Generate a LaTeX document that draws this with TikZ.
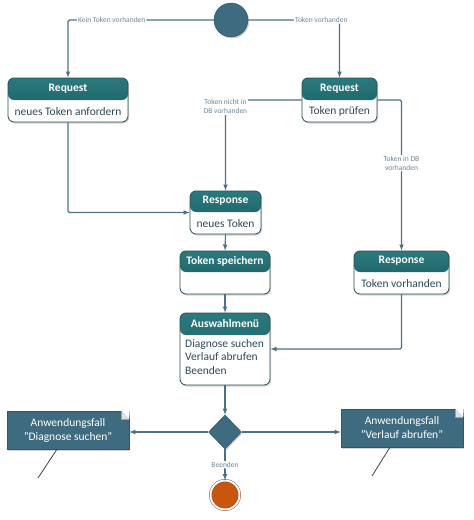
\documentclass[tikz,border=0pt]{standalone}
\usepackage{fontspec}
\setmainfont{Carlito}
\usetikzlibrary{arrows}
\usetikzlibrary{shapes.geometric}
\usetikzlibrary{shadows}
\definecolor{headtop}{HTML}{2C7A7E}
\definecolor{headbot}{HTML}{14585C}
\definecolor{flowcol}{HTML}{4F7082}
\definecolor{boxline}{HTML}{2B4B52}
\definecolor{slate}{HTML}{3F6B80}
\definecolor{labelcol}{HTML}{6A8798}
\definecolor{bodycol}{HTML}{2E4A5A}
\definecolor{stopfill}{HTML}{C9560F}
\definecolor{stopline}{HTML}{8A3A12}

\begin{document}
\begin{tikzpicture}[x=1pt,y=-1pt,
        statebox/.style={draw=boxline, line width=0.8pt, fill=white, rounded corners=6pt, inner sep=0pt,
            drop shadow={shadow xshift=1.2pt, shadow yshift=-1.5pt, opacity=0.35},
            path picture={\shade[top color=headtop, bottom color=headbot]
                (path picture bounding box.north west) rectangle ([yshift=-#1]path picture bounding box.north east);}},
        statebox/.default=22pt,
        headtext/.style={font=\bfseries\fontsize{11.5}{13}\selectfont, text=white},
        bodytext/.style={font=\fontsize{11.5}{13.5}\selectfont, text=bodycol},
        flow/.style={draw=flowcol, line width=1.1pt, -latex, rounded corners=1.5pt},
        flowlabel/.style={font=\fontsize{7.5}{9}\selectfont, text=labelcol, fill=white, inner sep=1pt, align=center},
        notebox/.style={rectangle, fill=slate, draw=slate!80!black, minimum width=122pt, minimum height=38pt,
            align=center, text=white, font=\fontsize{11.5}{14}\selectfont,
            drop shadow={shadow xshift=1.2pt, shadow yshift=-1.5pt, opacity=0.35}},
        noteline/.style={draw=black!75, line width=0.8pt}]
    \useasboundingbox (0,0) rectangle (474,520);

    % start and end
    \node[circle, fill=slate, draw=slate!70!black, minimum size=34pt, inner sep=0pt,
        drop shadow={shadow xshift=1.2pt, shadow yshift=-1.5pt, opacity=0.35}] (start) at (231,20) {};
    \node[circle, fill=stopfill, draw=stopline, double=white, double distance=2pt,
        minimum size=29pt, inner sep=0pt] (stop) at (225,495) {};

    % states
    \node[statebox, minimum width=120pt, minimum height=44pt] (reqA) at (68,100) {};
    \node[headtext] at ([yshift=-11pt]reqA.north) {Request};
    \node[bodytext] at ([yshift=11pt]reqA.south) {neues Token anfordern};

    \node[statebox, minimum width=75pt, minimum height=44pt] (reqB) at (339.5,100) {};
    \node[headtext] at ([yshift=-11pt]reqB.north) {Request};
    \node[bodytext] at ([yshift=11pt]reqB.south) {Token prüfen};

    \node[statebox=21pt, minimum width=71pt, minimum height=43pt] (resA) at (225.5,212.5) {};
    \node[headtext] at ([yshift=-10.5pt]resA.north) {Response};
    \node[bodytext] at ([yshift=11pt]resA.south) {neues Token};

    \node[statebox=21pt, minimum width=90pt, minimum height=43pt] (save) at (225,272.5) {};
    \node[headtext] at ([yshift=-10.5pt]save.north) {Token speichern};

    \node[statebox=21pt, minimum width=95pt, minimum height=43pt] (resB) at (401.5,272.5) {};
    \node[headtext] at ([yshift=-10.5pt]resB.north) {Response};
    \node[bodytext] at ([yshift=11pt]resB.south) {Token vorhanden};

    \node[statebox, minimum width=90pt, minimum height=72pt] (menu) at (225,349) {};
    \node[headtext] at ([yshift=-11pt]menu.north) {Auswahlmenü};
    \node[bodytext, align=left, anchor=north west, inner sep=0pt] at (185,339)
        {Diagnose suchen\\Verlauf abrufen\\Beenden};

    % decision and notes
    \node[diamond, fill=slate, draw=slate!70!black, minimum width=33pt, minimum height=34pt, inner sep=0pt,
        drop shadow={shadow xshift=1.2pt, shadow yshift=-1.5pt, opacity=0.35}] (dec) at (225,432) {};

    \node[notebox] (noteA) at (68,430) {Anwendungsfall\\"Diagnose suchen"};
    \node[notebox] (noteB) at (402,428) {Anwendungsfall\\"Verlauf abrufen"};
    \foreach \n in {noteA,noteB} {
        \fill[white] ([xshift=-8pt]\n.north east) -- ([xshift=0.6pt,yshift=0.6pt]\n.north east) -- ([yshift=-8pt]\n.north east) -- cycle;
        \fill[black!12] ([xshift=-8pt]\n.north east) -- ([xshift=-8pt,yshift=-8pt]\n.north east) -- ([yshift=-8pt]\n.north east) -- cycle;
        \draw[slate!60, line width=0.4pt] ([xshift=-8pt]\n.north east) -- ([xshift=-8pt,yshift=-8pt]\n.north east) -- ([yshift=-8pt]\n.north east);
    }
    \coordinate (tailA) at (38,478);
    \coordinate (tailB) at (372,476);
    \draw[noteline] ([xshift=-11pt]noteA.south) -- (tailA);
    \draw[noteline] ([xshift=-12pt]noteB.south) -- (tailB);

    % connectors
    \draw[flow] (start.west) -| node[flowlabel, pos=0.35] {Kein Token vorhanden} (reqA.north);
    \draw[flow] (start.east) -| node[flowlabel, pos=0.4] {Token vorhanden} (reqB.north);
    \draw[flow] (reqB.west) -| node[flowlabel, pos=0.5, anchor=north, yshift=2pt] {Token nicht in\\DB vorhanden} (resA.north);
    \draw[flow] (reqB.east) -| node[flowlabel, pos=0.71] {Token in DB\\vorhanden} (resB.north);
    \draw[flow] (reqA.south) |- (resA.west);
    \draw[flow] (resA.south) -- (save.north);
    \draw[flow] (save.south) -- (menu.north);
    \draw[flow] (resB.south) |- (menu.east);
    \draw[flow] (menu.south) -- (dec.north);
    \draw[flow] (dec.west) -- (dec.west -| noteA.east);
    \draw[flow] (dec.east) -- (dec.east -| noteB.west);
    \draw[flow] (dec.south) -- node[flowlabel] {Beenden} (stop.north);
\end{tikzpicture}
\end{document}
